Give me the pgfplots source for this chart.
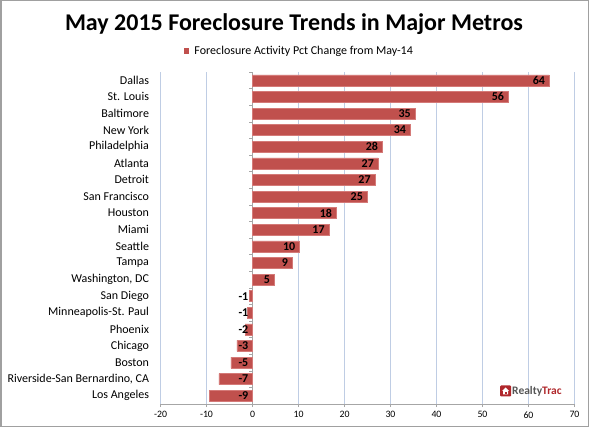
\documentclass[border=0pt]{standalone}
\usepackage{pgfplots}
\pgfplotsset{compat=1.18}
\usepackage{pgfplotstable}
\usepackage{fontspec}
\setmainfont{Carlito}
\definecolor{barred}{HTML}{C0504D}
\definecolor{baredge}{HTML}{D47A78}
\definecolor{gridblue}{HTML}{BFCDE4}
\definecolor{axgray}{HTML}{A6A6A6}
\definecolor{framegray}{HTML}{A0A0A0}
\definecolor{logogray}{HTML}{555555}
\definecolor{logored}{HTML}{B0282C}

\pgfplotstableread{
y val lpos lab
0 64.5 64.5 64
1 55.6 55.6 56
2 35.3 35.3 35
3 34.3 34.3 34
4 28.2 28.2 28
5 27.3 27.3 27
6 26.6 26.6 27
7 24.9 24.9 25
8 18.2 18.2 18
9 16.6 16.6 17
10 10.2 10.2 10
11 8.6 8.6 9
12 4.7 4.7 5
13 -0.7 0 -1
14 -1.1 0 -1
15 -1.6 0 -2
16 -3.4 0 -3
17 -4.7 0 -5
18 -7.3 0 -7
19 -9.4 0 -9
}\metros

\begin{document}
\begin{tikzpicture}
\useasboundingbox (0,0) rectangle (589bp,427bp);
\draw[framegray, line width=1.5bp] (0.75bp,0.75bp) rectangle (588.25bp,426.25bp);
\node[anchor=base, font=\fontsize{24bp}{28bp}\selectfont\bfseries] at (294bp,396.3bp) {May 2015 Foreclosure Trends in Major Metros};
\begin{axis}[
  at={(160.5bp,23bp)}, anchor=south west,
  scale only axis, width=414bp, height=332bp,
  xbar, bar width=11bp,
  xmin=-20, xmax=70, xtick={-20,-10,...,70},
  ymin=-0.5, ymax=19.5, y dir=reverse,
  ytick={0,...,19},
  yticklabels={Dallas,St. Louis,Baltimore,New York,Philadelphia,Atlanta,Detroit,San Francisco,Houston,Miami,Seattle,Tampa,{Washington, DC},San Diego,Minneapolis-St. Paul,Phoenix,Chicago,Boston,{Riverside-San Bernardino, CA},Los Angeles},
  axis x line*=bottom, axis y line*=left,
  y axis line style={draw=none},
  x axis line style={axgray, -},
  ytick style={draw=none},
  xtick style={axgray},
  tick align=outside, major tick length=3bp,
  xmajorgrids, grid style={gridblue, line width=0.6bp},
  /pgf/number format/assume math mode=true,
  xticklabel style={font=\fontsize{9.8bp}{11bp}\selectfont, yshift=-1bp},
  yticklabel style={font=\fontsize{12bp}{14bp}\selectfont, xshift=-5bp},
  legend style={at={(0.335,1.063)}, anchor=center, draw=none, fill=none,
    font=\fontsize{12bp}{14bp}\selectfont, inner sep=1bp},
  legend image code/.code={\fill[barred, draw=none] (0bp,-2.8bp) rectangle (5.6bp,2.8bp); \path[draw=none, fill=none] (0bp,0bp) -- (9bp,0bp);},
]
\draw[axgray] (axis cs:0,-0.5) -- (axis cs:0,19.5);
\pgfplotsinvokeforeach{-0.5,0.5,...,19.5}{\draw[axgray] (axis cs:0,#1) -- ([xshift=-3bp]axis cs:0,#1);}
\addplot[fill=barred, draw=baredge, line width=0.6bp, bar shift=0pt] table[x=val, y=y] {\metros};
\addlegendentry{Foreclosure Activity Pct Change from May-14}
\addplot[forget plot, draw=none, mark=none, only marks, bar shift=0pt,
  nodes near coords, point meta=explicit symbolic,
  every node near coord/.append style={anchor=east, xshift=-4bp, yshift=0pt, font=\fontsize{12bp}{13bp}\selectfont\bfseries, inner sep=0pt, text=black}]
  table[x=lpos, y=y, meta=lab] {\metros};
\end{axis}
\fill[logored, rounded corners=1bp] (500bp,30.5bp) rectangle (511bp,41.5bp);
\fill[white] (502bp,36bp) -- (505.5bp,39.5bp) -- (509bp,36bp) -- (508bp,36bp) -- (508bp,32.5bp) -- (503bp,32.5bp) -- (503bp,36bp) -- cycle;
\fill[logored] (504.5bp,32.5bp) rectangle (506.5bp,35bp);
\node[anchor=west, inner sep=0pt, font=\fontsize{11.5bp}{12bp}\selectfont\bfseries] at (512bp,36bp) {\textcolor{logogray}{Realty}\textcolor{logored}{Trac}};
\end{tikzpicture}
\end{document}
